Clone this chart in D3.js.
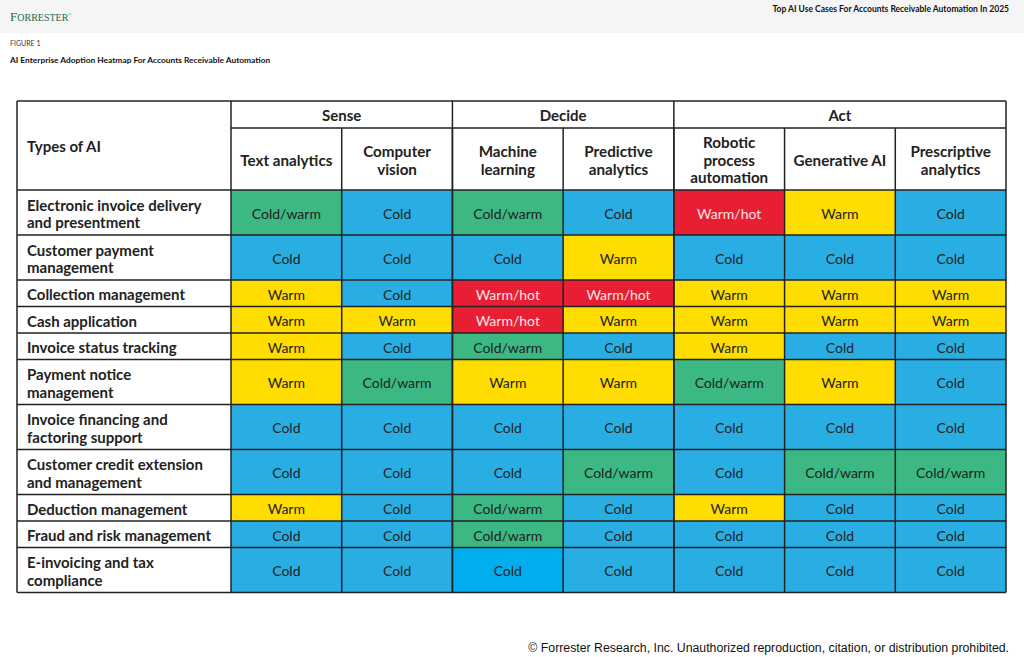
<!DOCTYPE html>
<html><head><meta charset="utf-8">
<script src="https://cdn.jsdelivr.net/npm/d3@7"></script>
<style>body{margin:0;background:#fff}svg{display:block}</style>
</head><body><svg id="c" width="1024" height="657"></svg>
<script>
const groups = ["Sense","Decide","Act"];
const groupSpans = [2,2,3];
const columns = ["Text analytics","Computer\nvision","Machine\nlearning","Predictive\nanalytics","Robotic\nprocess\nautomation","Generative AI","Prescriptive\nanalytics"];
const useCases = ["Electronic invoice delivery\nand presentment","Customer payment\nmanagement","Collection management","Cash application","Invoice status tracking","Payment notice\nmanagement","Invoice financing and\nfactoring support","Customer credit extension\nand management","Deduction management","Fraud and risk management","E-invoicing and tax\ncompliance"];
const r1 = ["Cold/warm","Cold","Cold/warm","Cold","Warm/hot","Warm","Cold"];
const r2 = ["Cold","Cold","Cold","Warm","Cold","Cold","Cold"];
const r3 = ["Warm","Cold","Warm/hot","Warm/hot","Warm","Warm","Warm"];
const r4 = ["Warm","Warm","Warm/hot","Warm","Warm","Warm","Warm"];
const r5 = ["Warm","Cold","Cold/warm","Cold","Warm","Cold","Cold"];
const r6 = ["Warm","Cold/warm","Warm","Warm","Cold/warm","Warm","Cold"];
const r7 = ["Cold","Cold","Cold","Cold","Cold","Cold","Cold"];
const r8 = ["Cold","Cold","Cold","Cold/warm","Cold","Cold/warm","Cold/warm"];
const r9 = ["Warm","Cold","Cold/warm","Cold","Warm","Cold","Cold"];
const r10 = ["Cold","Cold","Cold/warm","Cold","Cold","Cold","Cold"];
const r11 = ["Cold","Cold","Cold","Cold","Cold","Cold","Cold"];
const values = [r1,r2,r3,r4,r5,r6,r7,r8,r9,r10,r11];
const levels = ["Cold","Cold/warm","Warm","Warm/hot"];

(function(){
const svg = d3.select("#c");
const color = d3.scaleOrdinal().domain(levels).range(["#29aee4","#3cb882","#ffdd00","#e81e33"]);
const textColor = d3.scaleOrdinal().domain(levels).range(["#222","#222","#222","#fde4e6"]);

svg.append("rect").attr("x",0).attr("y",0).attr("width",1024).attr("height",33).attr("fill","#f5f5f5");
const logo = svg.append("text").attr("x",10).attr("y",21).attr("fill","#1c6b45").attr("font-family","Liberation Serif, serif");
logo.append("tspan").attr("font-size",13).text("F");
logo.append("tspan").attr("font-size",10).text("ORRESTER");
logo.append("tspan").attr("font-size",4).attr("dy",-5).text("®");
svg.append("text").attr("x",1009).attr("y",12).attr("text-anchor","end").attr("font-family","Lato, sans-serif").attr("font-weight",700).attr("font-size",8.5).attr("fill","#111").text("Top AI Use Cases For Accounts Receivable Automation In 2025");
svg.append("text").attr("x",10).attr("y",46).attr("font-family","Lato, sans-serif").attr("font-size",7).attr("fill","#333").text("FIGURE 1");
svg.append("text").attr("x",10).attr("y",62.5).attr("font-family","Lato, sans-serif").attr("font-weight",700).attr("font-size",8.4).attr("fill","#111").text("AI Enterprise Adoption Heatmap For Accounts Receivable Automation");
svg.append("text").attr("x",1009).attr("y",652).attr("text-anchor","end").attr("font-family","Liberation Sans, Arial, sans-serif").attr("font-size",12.3).attr("fill","#111").text("© Forrester Research, Inc. Unauthorized reproduction, citation, or distribution prohibited.");

const left = 17, labelRight = 231, right = 1006, topY = 101, groupBottom = 128, headBottom = 190;
const x = d3.scaleBand().domain(d3.range(columns.length)).range([labelRight,right]);
const lines = s => s.split("\n").length;
const rowH = useCases.map(u => lines(u) > 1 ? 45 : 26.5);
const rowY = Array.from(d3.cumsum([headBottom].concat(rowH)));
const y = i => rowY[i];

const font = "Lato, sans-serif";
function multiline(g, str, cx, cy, size, weight, fill, anchor, lh) {
  const ls = str.split("\n");
  const t = g.append("text").attr("x",cx).attr("font-family",font).attr("font-size",size).attr("font-weight",weight).attr("fill",fill).attr("text-anchor",anchor);
  ls.forEach((l,i)=>{
    t.append("tspan").attr("x",cx).attr("y",cy + 1.5 + (i-(ls.length-1)/2)*lh).attr("dy","0.35em").text(l);
  });
}

const g = svg.append("g");
values.forEach((row,ri)=>{
  row.forEach((v,ci)=>{
    let fill = color(v);
    if (ri===10 && ci===2) fill = "#00aeef";
    g.append("rect").attr("x",x(ci)).attr("y",y(ri)).attr("width",x.bandwidth()).attr("height",rowH[ri]).attr("fill",fill);
    multiline(g, v, x(ci)+x.bandwidth()/2, y(ri)+rowH[ri]/2, 14, 400, textColor(v), "middle", 17);
  });
  multiline(g, useCases[ri], 27, y(ri)+rowH[ri]/2, 15, 700, "#222", "start", 17.5);
});

multiline(g, "Types of AI", 27, (topY+headBottom)/2, 15, 700, "#222", "start", 17);
let ci0 = 0;
groups.forEach((gr,i)=>{
  const x0 = x(ci0), x1 = x(ci0+groupSpans[i]-1)+x.bandwidth();
  multiline(g, gr, (x0+x1)/2, (topY+groupBottom)/2, 15, 700, "#222", "middle", 17);
  ci0 += groupSpans[i];
});
columns.forEach((c,ci)=>{
  multiline(g, c, x(ci)+x.bandwidth()/2, (groupBottom+headBottom)/2, 15.2, 700, "#222", "middle", 17.5);
});

const bottom = rowY[rowY.length-1];
const L = svg.append("g").attr("stroke","#222").attr("stroke-width",1.5);
L.append("line").attr("x1",labelRight).attr("x2",right).attr("y1",groupBottom).attr("y2",groupBottom);
rowY.forEach(yy=>L.append("line").attr("x1",left).attr("x2",right).attr("y1",yy).attr("y2",yy));
L.append("line").attr("x1",left).attr("x2",right).attr("y1",topY).attr("y2",topY);
L.append("line").attr("x1",left).attr("x2",left).attr("y1",topY).attr("y2",bottom);
L.append("line").attr("x1",labelRight).attr("x2",labelRight).attr("y1",topY).attr("y2",bottom);
L.append("line").attr("x1",right).attr("x2",right).attr("y1",topY).attr("y2",bottom);
let acc = 0;
groupSpans.forEach(s=>{ acc += s; if (acc < columns.length) L.append("line").attr("x1",x(acc)).attr("x2",x(acc)).attr("y1",topY).attr("y2",bottom); });
d3.range(1,columns.length).forEach(k=>{ L.append("line").attr("x1",x(k)).attr("x2",x(k)).attr("y1",groupBottom).attr("y2",bottom); });
})();
</script></body></html>
